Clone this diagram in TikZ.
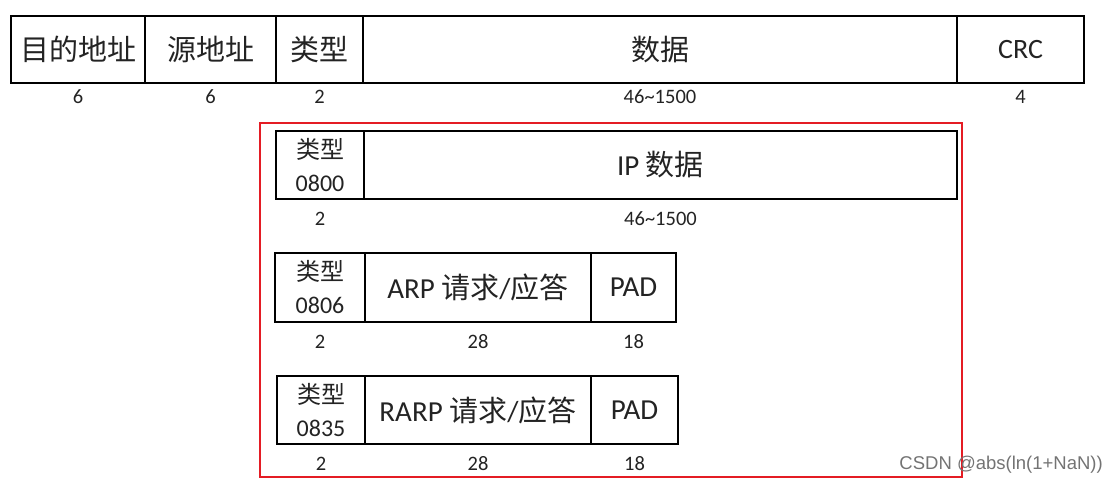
\documentclass[tikz,border=0pt]{standalone}
\usepackage{fontspec}
\setmainfont{Carlito}
\newfontfamily\cjk{Noto Sans CJK SC}
\newfontfamily\wmfont{Liberation Sans}
\definecolor{frameRed}{RGB}{228,28,36}
\definecolor{txtGray}{RGB}{35,35,35}
\begin{document}
\begin{tikzpicture}[x=1pt,y=-1pt,
  cell/.style={draw=black,line width=1.3pt,inner sep=0pt,outer sep=0pt,anchor=north west,
    font=\fontsize{29}{32}\selectfont,text=txtGray},
  topcell/.style={cell,font=\fontsize{29}{32}\selectfont},
  typecell/.style={cell,align=center,font=\fontsize{24}{33}\selectfont},
  num/.style={font=\fontsize{20.5}{22}\selectfont,text=txtGray,inner sep=0pt},
  frame/.style={draw=frameRed,line width=2.8pt}
]
\useasboundingbox (0,0) rectangle (1117,484);
% top row
\node[topcell,minimum width=134pt,minimum height=67pt] (dst) at (11,16) {\cjk 目的地址};
\node[topcell,minimum width=131pt,minimum height=67pt] (src) at (145,16) {\cjk 源地址};
\node[topcell,minimum width=87pt,minimum height=67pt] (typ) at (276,16) {\cjk 类型};
\node[topcell,minimum width=594pt,minimum height=67pt] (dat) at (363,16) {\cjk 数据};
\node[topcell,font=\fontsize{28}{32}\selectfont,minimum width=127pt,minimum height=67pt] (crc) at (957,16) {CRC};
\node[num] (ndst) at ([yshift=-14pt]dst.south) {6};
\node[num] (nsrc) at ([yshift=-14pt]src.south) {6};
\node[num] (ntyp) at ([yshift=-14pt]typ.south) {2};
\node[num] (ndat) at ([yshift=-14pt]dat.south) {46\textasciitilde1500};
\node[num] (ncrc) at ([yshift=-14pt]crc.south) {4};
% red frame
\node[frame,inner sep=0pt,outer sep=0pt,anchor=north west,minimum width=702pt,minimum height=354pt] (redbox) at (260,123) {};
% IP row
\node[typecell,minimum width=88pt,minimum height=68pt] (iptype) at (276,131) {{\cjk 类型}\\0800};
\node[cell,minimum width=593pt,minimum height=68pt] (ipdata) at (364,131) {IP {\cjk 数据}};
\node[num] (niptype) at ([yshift=-20pt]iptype.south) {2};
\node[num] (nipdata) at ([yshift=-20pt]ipdata.south) {46\textasciitilde1500};
% ARP row
\node[typecell,minimum width=90pt,minimum height=69pt] (arptype) at (275,253) {{\cjk 类型}\\0806};
\node[cell,minimum width=226pt,minimum height=69pt] (arpdata) at (365,253) {ARP {\cjk 请求}/{\cjk 应答}};
\node[cell,minimum width=85pt,minimum height=69pt] (arppad) at (591,253) {PAD};
\node[num] (narptype) at ([yshift=-20pt]arptype.south) {2};
\node[num] (narpdata) at ([yshift=-20pt]arpdata.south) {28};
\node[num] (narppad) at ([yshift=-20pt]arppad.south) {18};
% RARP row
\node[typecell,minimum width=88pt,minimum height=68pt] (rarptype) at (277,376) {{\cjk 类型}\\0835};
\node[cell,minimum width=226pt,minimum height=68pt] (rarpdata) at (365,376) {RARP {\cjk 请求}/{\cjk 应答}};
\node[cell,minimum width=87pt,minimum height=68pt] (rarppad) at (591,376) {PAD};
\node[num] (nrarptype) at ([yshift=-20pt]rarptype.south) {2};
\node[num] (nrarpdata) at ([yshift=-20pt]rarpdata.south) {28};
\node[num] (nrarppad) at ([yshift=-20pt]rarppad.south) {18};
% watermark
\node[font=\wmfont\fontsize{18.5}{20}\selectfont,text=black!55,inner sep=0pt,anchor=east] (wm) at (1103,465) {CSDN @abs(ln(1+NaN))};
\end{tikzpicture}
\end{document}
